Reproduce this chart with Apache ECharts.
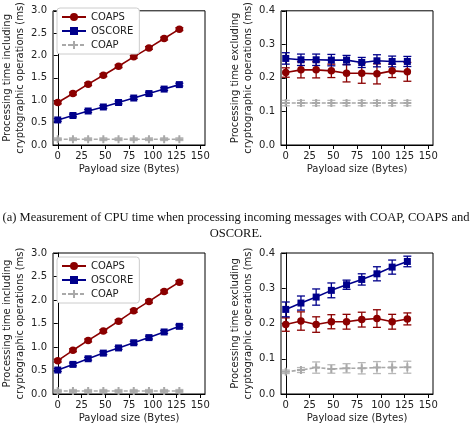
<!DOCTYPE html>
<html>
<head>
<meta charset="utf-8">
<script src="https://cdn.jsdelivr.net/npm/echarts@6/dist/echarts.min.js"></script>
<style>
  html, body { margin: 0; padding: 0; background: #fff; }
  #chart { width: 474px; height: 424px; }
</style>
</head>
<body>
<div id="chart"></div>
<script>
const payload = [0, 16, 32, 48, 64, 80, 96, 112, 128];
const xTicks = [0, 25, 50, 75, 100, 125, 150];

// (a) incoming messages, including crypto
const inclCoapsA = [0.95, 1.15, 1.36, 1.56, 1.76, 1.97, 2.17, 2.38, 2.59];
const inclOscoreA = [0.56, 0.66, 0.76, 0.85, 0.95, 1.05, 1.15, 1.25, 1.35];
const inclCoapA = [0.13, 0.13, 0.13, 0.13, 0.13, 0.13, 0.13, 0.13, 0.13];
const inclErrA = [0.03, 0.03, 0.03, 0.03, 0.03, 0.03, 0.03, 0.03, 0.03];

// (a) excluding crypto
const exclCoapsA = [0.216, 0.224, 0.224, 0.221, 0.214, 0.214, 0.212, 0.221, 0.218];
const exclCoapsErrA = [0.014, 0.024, 0.024, 0.02, 0.026, 0.03, 0.03, 0.02, 0.028];
const exclOscoreA = [0.258, 0.254, 0.254, 0.253, 0.253, 0.246, 0.251, 0.249, 0.249];
const exclOscoreErrA = [0.017, 0.017, 0.017, 0.017, 0.014, 0.015, 0.018, 0.016, 0.015];
const exclCoapA = [0.125, 0.125, 0.125, 0.125, 0.125, 0.125, 0.125, 0.125, 0.125];
const exclCoapErrA = [0.008, 0.008, 0.008, 0.008, 0.008, 0.008, 0.008, 0.008, 0.008];

// second figure, including crypto
const inclCoapsB = [0.71, 0.93, 1.14, 1.34, 1.55, 1.77, 1.97, 2.18, 2.38];
const inclOscoreB = [0.51, 0.63, 0.75, 0.87, 0.98, 1.09, 1.20, 1.32, 1.44];
const inclCoapB = [0.065, 0.065, 0.065, 0.065, 0.065, 0.065, 0.065, 0.065, 0.065];
const inclErrB = [0.03, 0.03, 0.03, 0.03, 0.03, 0.03, 0.03, 0.03, 0.03];

// second figure, excluding crypto
const exclCoapsB = [0.197, 0.207, 0.197, 0.205, 0.205, 0.211, 0.214, 0.205, 0.213];
const exclCoapsErrB = [0.019, 0.026, 0.022, 0.02, 0.021, 0.021, 0.025, 0.021, 0.017];
const exclOscoreB = [0.240, 0.258, 0.275, 0.294, 0.310, 0.325, 0.341, 0.360, 0.376];
const exclOscoreErrB = [0.021, 0.02, 0.023, 0.021, 0.013, 0.016, 0.02, 0.02, 0.015];
const exclCoapB = [0.063, 0.068, 0.075, 0.071, 0.073, 0.073, 0.075, 0.075, 0.076];
const exclCoapErrB = [0.005, 0.007, 0.016, 0.012, 0.013, 0.016, 0.017, 0.017, 0.017];

const caption = '(a) Measurement of CPU time when processing incoming messages with COAP, COAPS and\nOSCORE.';

const font = 'DejaVu Sans';
const ink = '#222';
const colors = { COAPS: '#8b0000', OSCORE: '#00008b', COAP: '#a9a9a9' };
const errColors = { COAPS: '#8b0000', OSCORE: '#00008b', COAP: '#b8b8b8' };
const symbols = {
  COAPS: 'circle',
  OSCORE: 'rect',
  COAP: 'path://M3,0h2v3h3v2h-3v3h-2v-3h-3v-2h3z'
};
const symbolSizes = { COAPS: 7.5, OSCORE: 7, COAP: 8 };

const grids = [
  { left: 53, top: 3, width: 152, height: 142 },
  { left: 281, top: 3, width: 152, height: 142 },
  { left: 53, top: 253, width: 152, height: 141 },
  { left: 281, top: 253, width: 152, height: 141 }
];

const panels = [
  { max: 3, interval: 0.5, label: 'Processing time including\ncryptographic operations (ms)',
    data: { COAPS: [inclCoapsA, inclErrA], OSCORE: [inclOscoreA, inclErrA], COAP: [inclCoapA, inclErrA] } },
  { max: 0.4, interval: 0.1, label: 'Processing time excluding\ncryptographic operations (ms)',
    data: { COAPS: [exclCoapsA, exclCoapsErrA], OSCORE: [exclOscoreA, exclOscoreErrA], COAP: [exclCoapA, exclCoapErrA] } },
  { max: 3, interval: 0.5, label: 'Processing time including\ncryptographic operations (ms)',
    data: { COAPS: [inclCoapsB, inclErrB], OSCORE: [inclOscoreB, inclErrB], COAP: [inclCoapB, inclErrB] } },
  { max: 0.4, interval: 0.1, label: 'Processing time excluding\ncryptographic operations (ms)',
    data: { COAPS: [exclCoapsB, exclCoapsErrB], OSCORE: [exclOscoreB, exclOscoreErrB], COAP: [exclCoapB, exclCoapErrB] } }
];

const xAxes = grids.map((g, i) => ({
  gridIndex: i,
  type: 'value',
  min: -5,
  max: 155,
  name: 'Payload size (Bytes)',
  nameLocation: 'middle',
  nameGap: 19,
  nameTextStyle: { fontFamily: font, fontSize: 10, color: ink },
  axisLine: { show: true, lineStyle: { color: '#000', width: 1 } },
  axisTick: { show: true, length: 4, lineStyle: { color: '#000' }, customValues: xTicks },
  axisLabel: { fontFamily: font, fontSize: 10, color: ink, margin: 6, customValues: xTicks },
  splitLine: { show: false }
}));

const yAxes = panels.map((p, i) => ({
  gridIndex: i,
  type: 'value',
  min: 0,
  max: p.max,
  interval: p.interval,
  name: p.label,
  nameLocation: 'middle',
  nameRotate: 90,
  nameGap: 22,
  nameTextStyle: { fontFamily: font, fontSize: 10, color: ink, lineHeight: 13 },
  axisLine: { show: true, lineStyle: { color: '#000', width: 1 } },
  axisTick: { show: true, length: 4, lineStyle: { color: '#000' } },
  axisLabel: { fontFamily: font, fontSize: 10, color: ink, margin: 6,
    formatter: v => v.toFixed(1) },
  splitLine: { show: false }
}));

function errorBars(color) {
  return function (params, api) {
    const x = api.value(0), y = api.value(1), e = api.value(2);
    const top = api.coord([x, y + e]);
    const bot = api.coord([x, y - e]);
    const w = 4;
    const style = { stroke: color, lineWidth: 1.3 };
    return {
      type: 'group',
      children: [
        { type: 'line', shape: { x1: top[0], y1: top[1], x2: bot[0], y2: bot[1] }, style },
        { type: 'line', shape: { x1: top[0] - w, y1: top[1], x2: top[0] + w, y2: top[1] }, style },
        { type: 'line', shape: { x1: bot[0] - w, y1: bot[1], x2: bot[0] + w, y2: bot[1] }, style }
      ]
    };
  };
}

const series = [];
panels.forEach((p, i) => {
  ['COAPS', 'OSCORE', 'COAP'].forEach(name => {
    const [vals, errs] = p.data[name];
    series.push({
      type: 'custom',
      name: name + ' error',
      xAxisIndex: i,
      yAxisIndex: i,
      renderItem: errorBars(errColors[name]),
      data: payload.map((x, k) => [x, vals[k], errs[k]]),
      z: 1,
      silent: true
    });
    series.push({
      type: 'line',
      name,
      xAxisIndex: i,
      yAxisIndex: i,
      data: payload.map((x, k) => [x, vals[k]]),
      symbol: symbols[name],
      symbolSize: symbolSizes[name],
      showAllSymbol: true,
      lineStyle: { color: colors[name], width: 1.6, type: name === 'COAP' ? [4, 2] : 'solid' },
      itemStyle: { color: colors[name], opacity: 1 },
      z: 2,
      animation: false
    });
  });
});

const legendBase = {
  orient: 'vertical',
  data: ['COAPS', 'OSCORE', 'COAP'],
  left: 57,
  itemWidth: 24,
  itemHeight: 10,
  itemGap: 4,
  padding: [4, 6, 4, 4],
  backgroundColor: '#fff',
  borderColor: '#ccc',
  borderWidth: 1,
  borderRadius: 3,
  textStyle: { fontFamily: font, fontSize: 10, color: ink },
  selectedMode: false
};

const chart = echarts.init(document.getElementById('chart'));
chart.setOption({
  backgroundColor: '#fff',
  animation: false,
  title: {
    text: caption,
    left: 231,
    top: 205,
    textAlign: 'center',
    textStyle: {
      fontFamily: 'Liberation Serif',
      fontSize: 12.5,
      fontWeight: 'normal',
      color: '#111',
      lineHeight: 16
    }
  },
  grid: grids.map(g => ({ ...g, show: true, borderColor: '#000', borderWidth: 1, backgroundColor: 'transparent' })),
  xAxis: xAxes,
  yAxis: yAxes,
  legend: [
    { ...legendBase, top: 8 },
    { ...legendBase, top: 257 }
  ],
  series
});
</script>
</body>
</html>
